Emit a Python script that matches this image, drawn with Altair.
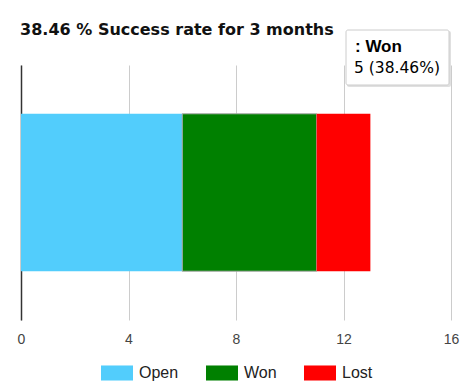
import altair as alt
import pandas as pd

statuses = ["Open", "Won", "Lost"]
counts = [6, 5, 2]
colors = ["#52CDFC", "#008000", "#FF0000"]
tick_values = [0, 4, 8, 12, 16]
title_text = "38.46 % Success rate for 3 months"
tip_status = "Won"

total = sum(counts)
tip_count = counts[statuses.index(tip_status)]
tip_pct = tip_count / total * 100

df = pd.DataFrame({
    "status": statuses,
    "count": counts,
    "order": list(range(len(statuses))),
    "row": ["deals"] * len(statuses),
})

FONT = "Liberation Sans"
WIDE = "DejaVu Sans"

bars = alt.Chart(df).mark_bar().encode(
    x=alt.X(
        "count:Q",
        stack="zero",
        scale=alt.Scale(domain=[0, 16], nice=False),
        axis=alt.Axis(
            values=tick_values, grid=True, gridColor="#cccccc", gridWidth=1,
            domain=False, ticks=False, labelPadding=12, labelFontSize=14,
            labelColor="#444444", labelFont=FONT, labelFlush=False, title=None,
        ),
    ),
    y=alt.Y(
        "row:N",
        scale=alt.Scale(paddingInner=0, paddingOuter=0.31),
        axis=alt.Axis(labels=False, ticks=False, title=None, grid=False,
                      domainColor="#333333", domainWidth=1.5),
    ),
    color=alt.Color(
        "status:N",
        scale=alt.Scale(domain=statuses, range=colors),
        legend=alt.Legend(
            orient="none", legendX=80, legendY=292, padding=0,
            direction="horizontal", title=None,
            symbolType="M-1,-0.47H1V0.47H-1Z", symbolSize=1024,
            symbolStrokeWidth=0, symbolOpacity=1,
            labelFontSize=16, labelFont=FONT, labelColor="#222222",
            labelOffset=6, columnPadding=27,
        ),
    ),
    order=alt.Order("order:Q"),
    stroke=alt.condition(alt.datum.status == tip_status, alt.value("#aaaaaa"), alt.value(None)),
    strokeWidth=alt.value(1),
)

tip_df = pd.DataFrame({
    "line1": [": " + tip_status],
    "line2": [f"{tip_count} ({tip_pct:.2f}%)"],
})

tip_shadow = alt.Chart(tip_df).mark_rect(fill="#000000", opacity=0.12, cornerRadius=2).encode(
    x=alt.value(326), x2=alt.value(430), y=alt.value(-34), y2=alt.value(22)
)
tip_box = alt.Chart(tip_df).mark_rect(fill="white", stroke="#cccccc", strokeWidth=1, cornerRadius=2).encode(
    x=alt.value(325), x2=alt.value(428), y=alt.value(-35), y2=alt.value(20)
)
tip_t1 = alt.Chart(tip_df).mark_text(
    align="left", baseline="alphabetic", font=FONT, fontSize=17, fontWeight="bold", color="#000000"
).encode(x=alt.value(334), y=alt.value(-13), text="line1:N")
tip_t2 = alt.Chart(tip_df).mark_text(
    align="left", baseline="alphabetic", font=WIDE, fontSize=15.5, color="#000000"
).encode(x=alt.value(333), y=alt.value(8), text="line2:N")

chart = alt.layer(bars, tip_shadow, tip_box, tip_t1, tip_t2).properties(
    width=430,
    height=255,
    autosize=alt.AutoSizeParams(type="none"),
    padding={"left": 13, "top": 57, "right": 15, "bottom": 63},
    title=alt.TitleParams(
        text=title_text, anchor="start", fontSize=16, fontWeight="bold",
        font=WIDE, color="#111111", offset=-21, dx=3, baseline="alphabetic",
    ),
).configure_view(stroke=None)

chart.save("out.html", embed_options={"renderer": "svg", "actions": False})
